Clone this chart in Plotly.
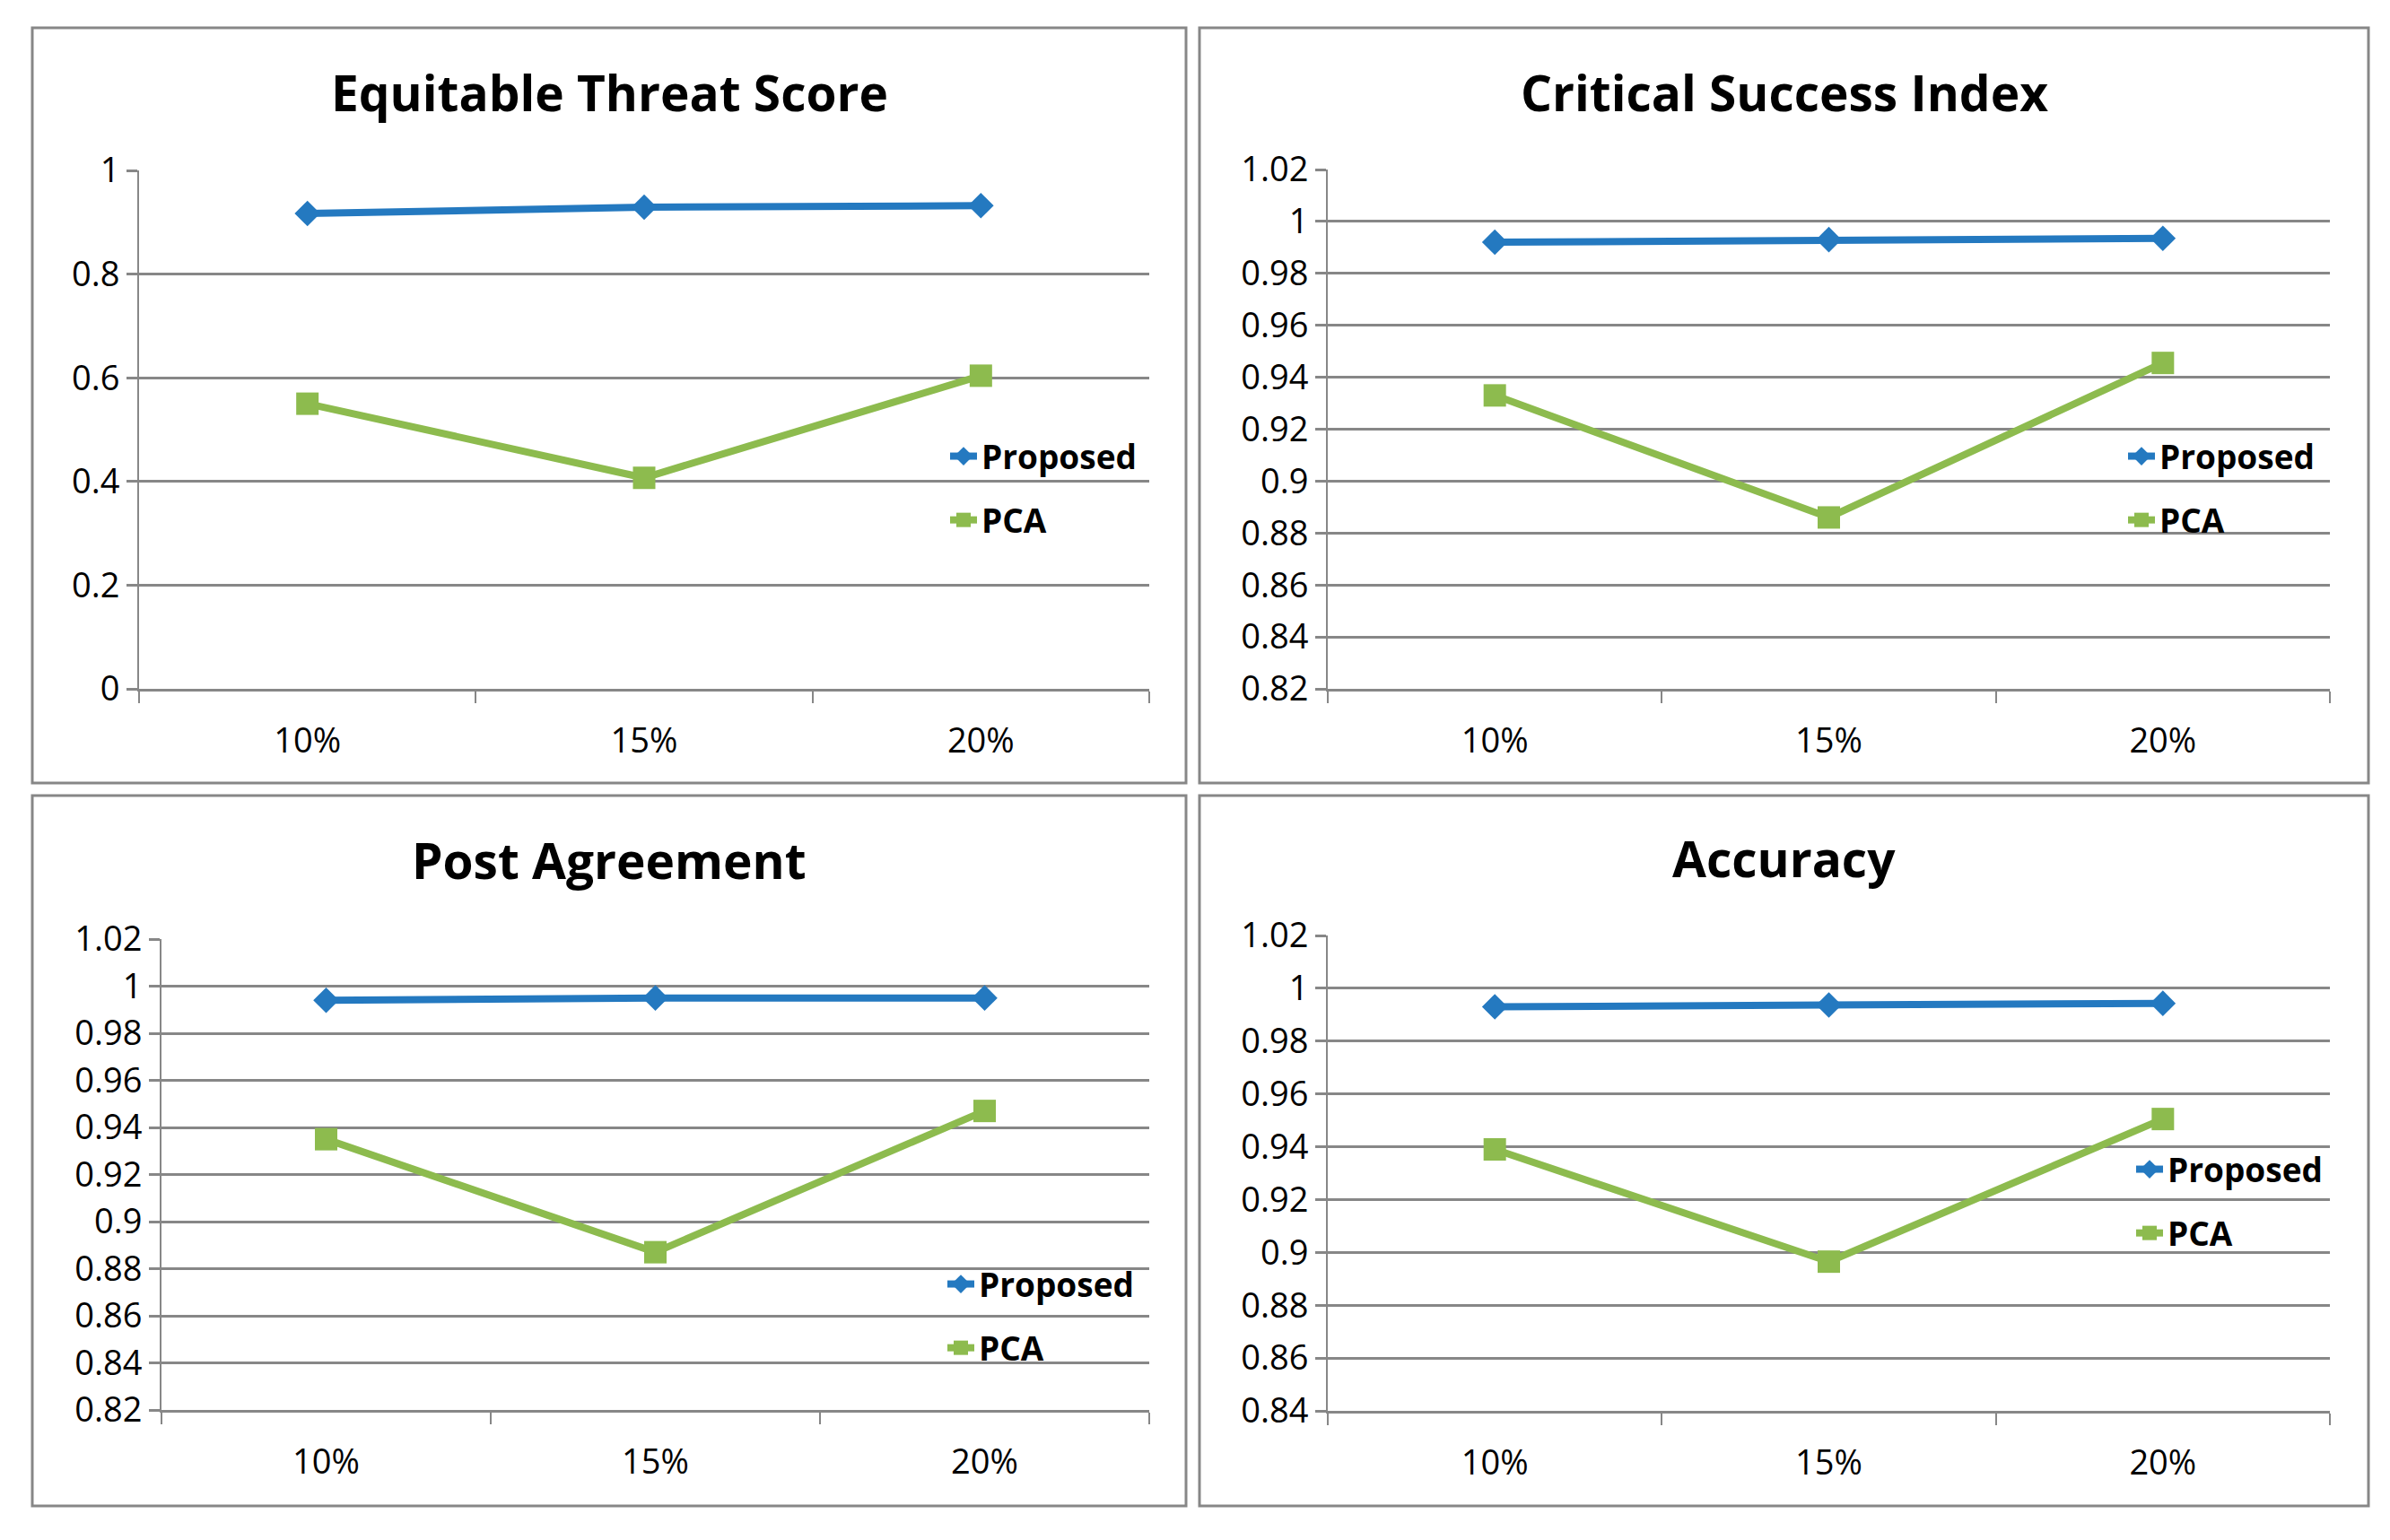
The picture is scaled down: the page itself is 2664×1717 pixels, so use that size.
import plotly.graph_objects as go

# chart data
categories = ["10%", "15%", "20%"]
series_names = ["Proposed", "PCA"]

titles = ["Equitable Threat Score", "Critical Success Index", "Post Agreement", "Accuracy"]

ets_proposed = [0.917, 0.929, 0.932]
ets_pca = [0.550, 0.407, 0.604]
csi_proposed = [0.992, 0.993, 0.9935]
csi_pca = [0.933, 0.886, 0.9455]
pa_proposed = [0.994, 0.995, 0.995]
pa_pca = [0.935, 0.887, 0.947]
acc_proposed = [0.993, 0.9937, 0.9943]
acc_pca = [0.939, 0.8965, 0.9505]

ets_ticks = [0, 0.2, 0.4, 0.6, 0.8, 1]
csi_ticks = [0.82, 0.84, 0.86, 0.88, 0.9, 0.92, 0.94, 0.96, 0.98, 1, 1.02]
pa_ticks = [0.82, 0.84, 0.86, 0.88, 0.9, 0.92, 0.94, 0.96, 0.98, 1, 1.02]
acc_ticks = [0.84, 0.86, 0.88, 0.9, 0.92, 0.94, 0.96, 0.98, 1, 1.02]

W, H = 2664, 1717
PAD = 8  # page body margin
FW, FH = W - 2 * PAD, H - 2 * PAD
FONT = "Open Sans, Lato, sans-serif"
BLUE = "#2479c0"
GREEN = "#8dbb4e"
GRAY = "#878787"


def px(x):
    return (x - PAD) / FW


def py(y):
    return 1 - (y - PAD) / FH


def fmt(v):
    return ("%g" % v)


panels = [
    # data, ticks, plot area (l, t, r, b) px, panel box px, title y px, legend (x, y) px
    dict(p=ets_proposed, q=ets_pca, ticks=ets_ticks,
         area=(155, 190, 1281, 768), box=(36, 31, 1322, 873), ty=102, leg=(1054, 478)),
    dict(p=csi_proposed, q=csi_pca, ticks=csi_ticks,
         area=(1480, 189, 2597, 768), box=(1337, 31, 2640, 873), ty=102, leg=(2367, 478)),
    dict(p=pa_proposed, q=pa_pca, ticks=pa_ticks,
         area=(180, 1047, 1281, 1572), box=(36, 887, 1322, 1679), ty=958, leg=(1051, 1401)),
    dict(p=acc_proposed, q=acc_pca, ticks=acc_ticks,
         area=(1480, 1043, 2597, 1573), box=(1337, 887, 2640, 1679), ty=956, leg=(2376, 1273)),
]

fig = go.Figure()
layout = dict(
    width=FW, height=FH,
    margin=dict(l=0, r=0, t=0, b=0, pad=0, autoexpand=False),
    paper_bgcolor="white", plot_bgcolor="white",
    font=dict(family=FONT, color="black", size=38),
    shapes=[], annotations=[],
)

for i, pan in enumerate(panels):
    n = "" if i == 0 else str(i + 1)
    leg = "legend" + n
    l, t, r, b = pan["area"]
    fig.add_trace(go.Scatter(
        x=categories, y=pan["p"], name=series_names[0], mode="lines+markers",
        line=dict(color=BLUE, width=8), marker=dict(symbol="diamond", size=22, color=BLUE),
        xaxis="x" + n, yaxis="y" + n, legend=leg, legendgroup="a" + n))
    fig.add_trace(go.Scatter(
        x=categories, y=pan["q"], name=series_names[1], mode="lines+markers",
        line=dict(color=GREEN, width=8), marker=dict(symbol="square", size=25, color=GREEN),
        xaxis="x" + n, yaxis="y" + n, legend=leg, legendgroup="b" + n))

    ticks = pan["ticks"]
    layout["xaxis" + n] = dict(
        domain=[px(l), px(r)], anchor="y" + n, type="category",
        range=[-0.5, 2.5], showgrid=False, showline=True, linecolor=GRAY, linewidth=3,
        ticks="outside", tickson="boundaries", ticklen=13, tickwidth=2, tickcolor=GRAY,
        ticklabelstandoff=22, tickfont=dict(size=38), fixedrange=True)
    layout["yaxis" + n] = dict(
        domain=[py(b), py(t)], anchor="x" + n, range=[ticks[0], ticks[-1]],
        tickvals=ticks, ticktext=[fmt(v) for v in ticks],
        showgrid=True, gridcolor=GRAY, gridwidth=3, zeroline=False,
        showline=True, linecolor=GRAY, linewidth=2,
        ticks="outside", ticklen=12, tickwidth=3, tickcolor=GRAY,
        tickfont=dict(size=38), fixedrange=True)
    lx, ly = pan["leg"]
    layout[leg] = dict(
        x=px(lx), y=py(ly), xanchor="left", yanchor="top",
        bgcolor="rgba(0,0,0,0)", font=dict(size=37, family=FONT, weight="bold"),
        traceorder="grouped", tracegroupgap=20)

    bx0, by0, bx1, by1 = pan["box"]
    layout["shapes"].append(dict(
        type="rect", xref="paper", yref="paper",
        x0=px(bx0), x1=px(bx1), y0=py(by1), y1=py(by0),
        line=dict(color=GRAY, width=3), layer="below"))
    layout["annotations"].append(dict(
        text="<b>%s</b>" % titles[i], xref="paper", yref="paper",
        x=px((bx0 + bx1) / 2), y=py(pan["ty"]), xanchor="center", yanchor="middle",
        showarrow=False, font=dict(size=55, family=FONT, color="black")))

fig.update_layout(**layout)
fig.write_html("out.html")
